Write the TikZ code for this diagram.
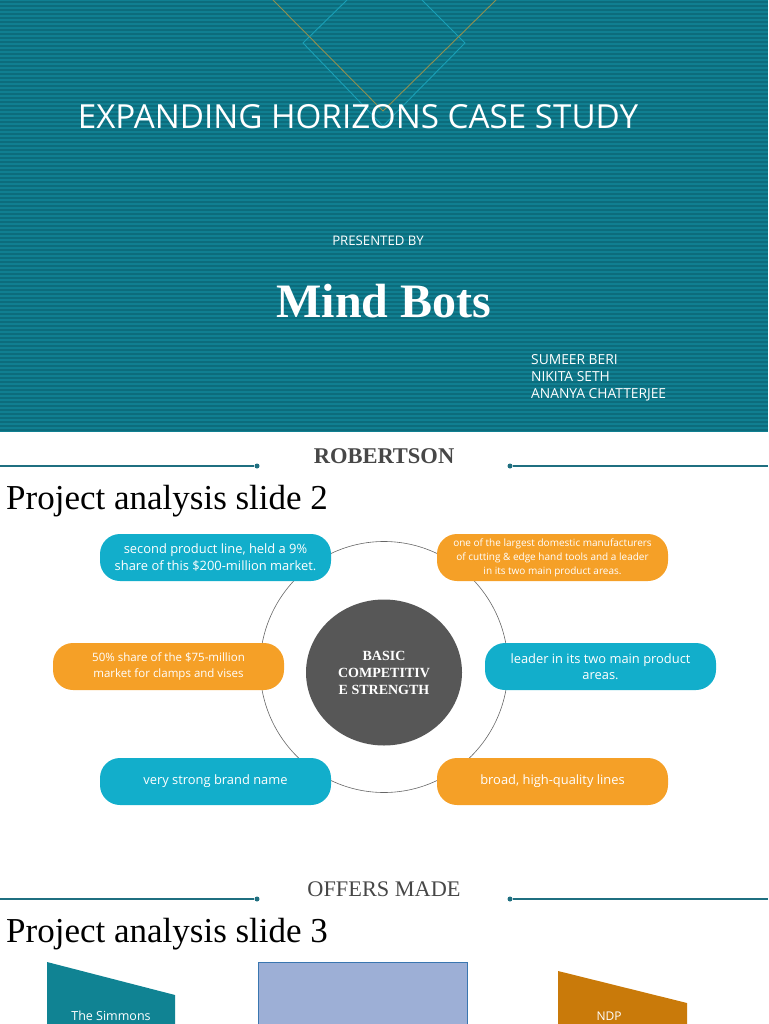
\documentclass[tikz,border=0pt]{standalone}
\usepackage{fontspec}
\setmainfont{Liberation Serif}
\newfontfamily\slidefont{Open Sans}
\usetikzlibrary{shapes.geometric}
\definecolor{teal1}{HTML}{107F91}
\definecolor{teal2}{HTML}{0C6C7C}
\definecolor{shape1}{HTML}{108393}
\definecolor{shape2}{HTML}{9DAFD6}
\definecolor{shape2line}{HTML}{3A76B0}
\definecolor{shape3}{HTML}{C97A0A}
\definecolor{pillblue}{HTML}{12AECB}
\definecolor{pillorange}{HTML}{F5A027}
\definecolor{headline}{HTML}{1F6F80}
\definecolor{diamondblue}{HTML}{1A9FB6}
\definecolor{diamondgold}{HTML}{8F8F50}
\begin{document}
\begin{tikzpicture}[x=1pt,y=-1pt]
	\tikzset{
		mypill/.style = {rounded corners=20pt, minimum width=231pt, minimum height=47pt, inner sep=0pt, align=center, text=white, font=\slidefont\fontsize{12.9}{16.5}\selectfont},
		bluepill/.style = {mypill, fill=pillblue},
		orangepill/.style = {mypill, fill=pillorange},
		mydot/.style = {circle, fill=headline, inner sep=0pt, minimum size=5pt},
		myline/.style = {headline, line width=1.1pt},
		mytitle/.style = {anchor=west, inner sep=0pt, font=\fontsize{35}{40}\selectfont},
		myhead/.style = {inner sep=0pt, text=black!72, font=\fontsize{22.3}{24}\selectfont},
		mywhite/.style = {inner sep=0pt, text=white},
	}
	\useasboundingbox (0,0) rectangle (768,1024);
	\fill[teal1] (0,0) rectangle (768,432);
	\foreach \y in {2,6,...,430}
		\draw[teal2, line width=1.3pt] (0,\y) -- (768,\y);
	%
	\draw[diamondblue, line width=0.9pt] (347,0) -- (303,43) -- (383,126) -- (465,43) -- (422,0);
	\draw[diamondgold, line width=0.9pt] (273,0) -- (383,111) -- (496,0);
	%
	\node[mywhite, font=\slidefont\fontsize{33.2}{40}\selectfont] at (358,117) (title) {EXPANDING HORIZONS CASE STUDY};
	\node[mywhite, font=\slidefont\fontsize{13.2}{16}\selectfont] at (378,241) (presented) {PRESENTED BY};
	\node[mywhite, font=\bfseries\fontsize{48}{50}\selectfont] at (384,301.5) (team) {Mind Bots};
	\node[mywhite, anchor=north west, align=left, font=\slidefont\fontsize{13.8}{17}\selectfont] at (531,354) (names) {SUMEER BERI\\NIKITA SETH\\ANANYA CHATTERJEE};
	%
	\node[myhead, font=\bfseries\fontsize{22.5}{24}\selectfont] at (384,456) (head2) {ROBERTSON};
	\coordinate (l2) at (0,466);
	\coordinate (r2) at (768,466);
	\node[mydot] at (257,466) (ld2) {};
	\node[mydot] at (510,466) (rd2) {};
	\draw[myline] (l2) -- (ld2);
	\draw[myline] (rd2) -- (r2);
	\node[mytitle] at (6,501) (slide2) {Project analysis slide 2};
	%
	\node[ellipse, draw=black!60, line width=0.6pt, minimum width=248pt, minimum height=251pt] at (384,667) (ring) {};
	\node[ellipse, fill=black!66, minimum width=156pt, minimum height=146pt, inner sep=0pt, align=center, text=white, font=\bfseries\fontsize{14}{17}\selectfont] at (384,672.5) (basic) {BASIC\\COMPETITIV\\E STRENGTH};
	%
	\node[bluepill] at (215.5,557.5) (tl) {second product line, held a 9\%\\share of this \$200-million market.};
	\node[orangepill, font=\slidefont\fontsize{10}{14}\selectfont] at (552.5,557.5) (tr) {one of the largest domestic manufacturers\\of cutting \& edge hand tools and a leader\\in its two main product areas.};
	\node[orangepill, font=\slidefont\fontsize{11.5}{16.5}\selectfont] at (168.5,666.5) (ml) {50\% share of the \$75-million\\market for clamps and vises};
	\node[bluepill] at (600.5,666.5) (mr) {leader in its two main product\\areas.};
	\node[bluepill] at (215.5,781.5) (bl) {very strong brand name};
	\node[orangepill] at (552.5,781.5) (br) {broad, high-quality lines};
	%
	\node[myhead] at (384,889) (head3) {OFFERS MADE};
	\coordinate (l3) at (0,899);
	\coordinate (r3) at (768,899);
	\node[mydot] at (257,899) (ld3) {};
	\node[mydot] at (510,899) (rd3) {};
	\draw[myline] (l3) -- (ld3);
	\draw[myline] (rd3) -- (r3);
	\node[mytitle] at (6,934) (slide3) {Project analysis slide 3};
	%
	\fill[shape1] (47,962) -- (175,995) -- (175,1024) -- (47,1024) -- cycle;
	\draw[fill=shape2, draw=shape2line] (258,962.5) rectangle (467.5,1026);
	\fill[shape3] (558,971) -- (687,1003) -- (687,1024) -- (558,1024) -- cycle;
	\node[mywhite, font=\slidefont\fontsize{12.5}{14}\selectfont] at (111,1016) (simmons) {The Simmons};
	\node[mywhite, font=\slidefont\fontsize{12}{14}\selectfont] at (609,1016) (ndp) {NDP};
\end{tikzpicture}
\end{document}
